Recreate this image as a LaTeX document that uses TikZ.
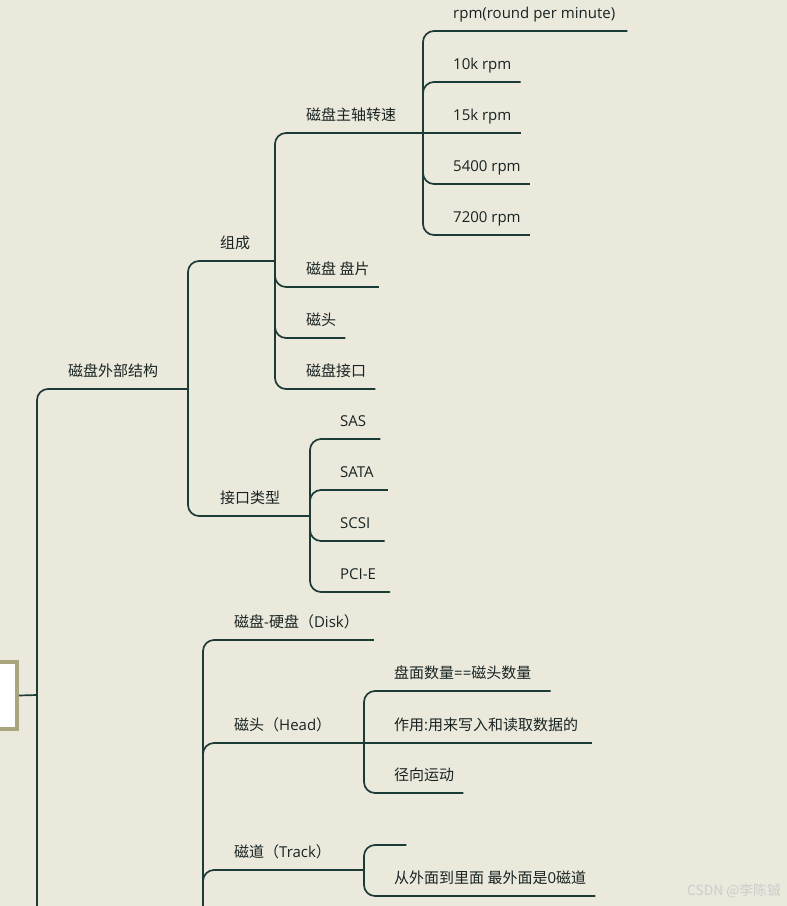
\documentclass[tikz,border=0pt]{standalone}
\usepackage{fontspec}
\setmainfont{Open Sans}
\newfontfamily\cjkfont{Noto Sans CJK SC}
\newfontfamily\latfont{Open Sans}
\newcommand\lat[1]{{\latfont #1}}
\definecolor{paper}{RGB}{235,232,220}
\definecolor{branchcol}{RGB}{29,59,54}
\definecolor{labelcol}{RGB}{24,36,34}
\definecolor{rootcol}{RGB}{169,165,127}

\begin{document}
\begin{tikzpicture}[
  x=1pt, y=-1pt,
  branch/.style={draw=branchcol, line width=1.7pt, rounded corners=11pt},
  knot/.style={draw=branchcol, line width=2.8pt},
  topic/.style={anchor=south west, inner xsep=0pt, inner ysep=0pt,
    text depth=12.5pt, text=labelcol, font=\cjkfont\fontsize{15}{17}\selectfont},
  lattopic/.style={topic, font=\latfont\fontsize{15}{17}\selectfont},
  rootbox/.style={draw=rootcol, line width=4pt, fill=white,
    minimum width=60pt, minimum height=67pt, inner sep=0pt},
  watermark/.style={anchor=east, inner sep=0pt, text=white!80!black,
    font=\cjkfont\fontsize{13.8}{16}\selectfont}
]
\useasboundingbox (0,0) rectangle (787,906);
\fill[paper] (0,0) rectangle (787,906);
\clip (0,0) rectangle (787,906);

\node[rootbox] (root) at (-13,695.5) {};
\coordinate (f-root) at (37,695);
\coordinate (c-trunk) at (37,930);
\coordinate (f-hidden) at (203,990);

\node[topic] (waibu) at (68,389) {磁盘外部结构};
\coordinate (f-waibu) at (188,389);

\node[topic] (zucheng) at (220,261) {组成};
\coordinate (f-zucheng) at (275,261);
\node[topic] (jklx) at (220,516) {接口类型};
\coordinate (f-jklx) at (310,516);

\node[topic] (zhuzhou) at (306,133) {磁盘主轴转速};
\coordinate (f-zhuzhou) at (423,133);
\node[topic] (panpian) at (306,287) {磁盘 盘片};
\node[topic] (citou) at (306,338) {磁头};
\node[topic] (jiekou) at (306,389) {磁盘接口};

\node[lattopic] (rpm) at (453,31) {rpm(round per minute)};
\node[lattopic] (rpm10k) at (453,82) {10k rpm};
\node[lattopic] (rpm15k) at (453,133) {15k rpm};
\node[lattopic] (rpm5400) at (453,184) {5400 rpm};
\node[lattopic] (rpm7200) at (453,235) {7200 rpm};

\node[lattopic] (sas) at (340,439) {SAS};
\node[lattopic] (sata) at (340,490) {SATA};
\node[lattopic] (scsi) at (340,541) {SCSI};
\node[lattopic] (pcie) at (340,592) {PCI-E};

\node[topic] (disk) at (234,640) {磁盘\lat{-}硬盘（\lat{Disk}）};
\node[topic] (head) at (234,743) {磁头（\lat{Head}）};
\coordinate (f-head) at (364,743);
\node[topic] (track) at (234,870) {磁道（\lat{Track}）};
\coordinate (f-track) at (364,870);

\node[topic] (shuliang) at (394,691) {盘面数量\lat{==}磁头数量};
\node[topic] (zuoyong) at (394,743) {作用\lat{:}用来写入和读取数据的};
\node[topic] (jingxiang) at (394,793) {径向运动};

\node[topic, minimum width=3pt] (blank) at (394,845) {};
\node[topic] (waili) at (394,896) {从外面到里面 最外面是\lat{0}磁道};

\node[watermark] (mark) at (781,891) {CSDN @李陈铖};

\draw[branch] (root.east) -- (f-root);
\draw[branch] (f-root) -- (c-trunk);
\draw[branch] (f-root) |- (waibu.south west) -- (f-waibu);
\draw[knot] ([xshift=-18pt]f-waibu) -- (f-waibu);

\draw[branch] (f-waibu) |- (zucheng.south west) -- (f-zucheng);
\draw[branch] (f-waibu) |- (jklx.south west) -- (f-jklx);
\draw[knot] ([xshift=-18pt]f-zucheng) -- (f-zucheng);
\draw[knot] ([xshift=-18pt]f-jklx) -- (f-jklx);

\draw[branch] (f-zucheng) |- (zhuzhou.south west) -- (f-zhuzhou);
\draw[branch] (f-zucheng) |- (panpian.south west) -- ([xshift=9pt]panpian.south east);
\draw[branch] (f-zucheng) |- (citou.south west) -- ([xshift=9pt]citou.south east);
\draw[branch] (f-zucheng) |- (jiekou.south west) -- ([xshift=9pt]jiekou.south east);
\draw[knot] ([xshift=-18pt]f-zhuzhou) -- (f-zhuzhou);

\draw[branch] (f-zhuzhou) |- (rpm.south west) -- ([xshift=12pt]rpm.south east);
\draw[branch] (f-zhuzhou) |- (rpm10k.south west) -- ([xshift=9pt]rpm10k.south east);
\draw[branch] (f-zhuzhou) -- ([xshift=9pt]rpm15k.south east);
\draw[branch] (f-zhuzhou) |- (rpm5400.south west) -- ([xshift=9pt]rpm5400.south east);
\draw[branch] (f-zhuzhou) |- (rpm7200.south west) -- ([xshift=9pt]rpm7200.south east);

\draw[branch] (f-jklx) |- (sas.south west) -- ([xshift=14pt]sas.south east);
\draw[branch] (f-jklx) |- (sata.south west) -- ([xshift=14pt]sata.south east);
\draw[branch] (f-jklx) |- (scsi.south west) -- ([xshift=14pt]scsi.south east);
\draw[branch] (f-jklx) |- (pcie.south west) -- ([xshift=14pt]pcie.south east);

\draw[branch] (f-hidden) |- (disk.south west) -- ([xshift=15pt]disk.south east);
\draw[branch] (f-hidden) |- (head.south west) -- (f-head);
\draw[branch] (f-hidden) |- (track.south west) -- (f-track);
\draw[knot] ([xshift=-18pt]f-head) -- (f-head);
\draw[knot] ([xshift=-18pt]f-track) -- (f-track);

\draw[branch] (f-head) |- (shuliang.south west) -- ([xshift=19pt]shuliang.south east);
\draw[branch] (f-head) -- ([xshift=14pt]zuoyong.south east);
\draw[branch] (f-head) |- (jingxiang.south west) -- ([xshift=9pt]jingxiang.south east);

\draw[branch] (f-track) |- (blank.south west) -- ([xshift=9pt]blank.south east);
\draw[branch] (f-track) |- (waili.south west) -- ([xshift=9pt]waili.south east);

\end{tikzpicture}
\end{document}
